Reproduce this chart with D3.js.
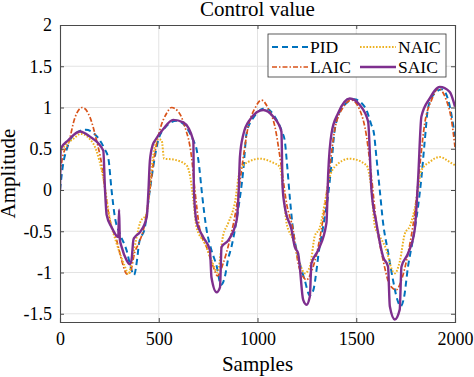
<!DOCTYPE html>
<html>
    <head>
        <title>Control value</title>
        <script src="https://d3js.org/d3.v7.min.js"></script>
        <style>
            body { margin: 0; background: #fff; }
            text { font-family: "Liberation Serif", "Times New Roman", serif; fill: #000; }
        </style>
    </head>
    <body>
        <svg width="474" height="377" id="mainSvg"></svg>
        <script>
            // tick labels
            const xTicks = [0, 500, 1000, 1500, 2000]
            const yTicks = [-1.5, -1, -0.5, 0, 0.5, 1, 1.5, 2]

            // [sample, amplitude]
            const pidData = [[0,0],[15,0.3],[35,0.5],[75,0.68],[130,0.73],[190,0.64],[225,0.5],[245,0.38],[261,0.0],[278,-0.33],[303,-0.53],[337,-0.73],[360,-0.95],[375,-1.03],[390,-0.85],[400,-0.65],[430,-0.45],[455,0.0],[472,0.28],[497,0.6],[530,0.75],[590,0.84],[640,0.76],[675,0.6],[691,0.5],[705,0.28],[717,0.0],[742,-0.48],[767,-0.73],[793,-0.92],[815,-1.15],[835,-1.05],[850,-0.85],[868,-0.69],[902,-0.24],[928,0.24],[945,0.69],[980,0.88],[1040,0.99],[1090,0.88],[1125,0.7],[1138,0.6],[1150,0.3],[1164,-0.1],[1180,-0.48],[1206,-0.81],[1240,-1.1],[1265,-1.28],[1282,-1.22],[1300,-0.95],[1307,-0.81],[1332,-0.45],[1358,-0.05],[1375,0.32],[1391,0.73],[1430,1.0],[1490,1.1],[1545,1.0],[1575,0.8],[1590,0.68],[1602,0.4],[1619,0.0],[1636,-0.4],[1661,-0.75],[1686,-1.09],[1708,-1.33],[1725,-1.41],[1742,-1.3],[1762,-0.93],[1787,-0.6],[1813,-0.2],[1830,0.15],[1847,0.6],[1864,1.0],[1900,1.18],[1935,1.22],[1970,1.05],[2000,0.65]]

            const laicData = [[0,0.2],[15,0.42],[42,0.56],[76,0.88],[113,1.0],[152,0.88],[185,0.6],[211,0.31],[228,0.0],[253,-0.37],[287,-0.61],[312,-0.85],[340,-1.02],[355,-1.0],[379,-0.75],[396,-0.66],[430,-0.4],[455,0.0],[472,0.32],[506,0.73],[540,0.93],[565,1.0],[599,0.95],[632,0.77],[666,0.4],[683,0.0],[708,-0.48],[742,-0.69],[776,-0.93],[797,-1.04],[826,-0.89],[860,-0.6],[894,-0.2],[919,0.24],[953,0.77],[987,0.99],[1020,1.09],[1054,0.99],[1088,0.77],[1121,0.28],[1147,-0.16],[1180,-0.48],[1206,-0.89],[1231,-1.05],[1248,-1.09],[1273,-0.99],[1307,-0.69],[1341,-0.2],[1366,0.28],[1391,0.73],[1433,1.0],[1476,1.09],[1518,0.97],[1552,0.65],[1577,0.16],[1602,-0.4],[1636,-0.85],[1670,-1.15],[1703,-1.21],[1729,-1.09],[1762,-0.77],[1796,-0.28],[1821,0.28],[1847,0.81],[1881,1.09],[1915,1.23],[1956,1.09],[1982,0.85],[2000,0.52]]

            const naicData = [[0,0.45],[30,0.55],[67,0.62],[105,0.68],[169,0.56],[200,0.35],[219,0.15],[253,-0.36],[287,-0.65],[329,-0.93],[346,-1.02],[371,-0.77],[405,-0.4],[439,-0.28],[460,0.2],[478,0.5],[495,0.62],[515,0.6],[527,0.38],[573,0.37],[641,0.3],[660,0.15],[675,-0.12],[691,-0.45],[734,-0.65],[767,-0.85],[797,-1.0],[826,-0.55],[852,-0.4],[885,-0.16],[911,0.24],[928,0.3],[953,0.34],[1012,0.38],[1071,0.34],[1113,0.28],[1130,0.0],[1147,-0.4],[1180,-0.6],[1214,-0.89],[1240,-1.01],[1265,-0.93],[1290,-0.56],[1315,-0.46],[1345,-0.1],[1366,0.16],[1391,0.28],[1467,0.38],[1552,0.3],[1577,0.0],[1594,-0.44],[1619,-0.56],[1653,-0.73],[1678,-0.95],[1695,-1.01],[1720,-0.87],[1746,-0.53],[1771,-0.44],[1805,-0.12],[1830,0.24],[1872,0.34],[1923,0.4],[1973,0.34],[2000,0.3]]

            const saicData = [[0,0],[4,0.5],[40,0.6],[101,0.71],[150,0.65],[219,0.48],[228,0.0],[236,-0.3],[261,-0.45],[295,-0.57],[299,-0.24],[303,-0.6],[312,-0.69],[337,-0.85],[354,-0.9],[362,-0.85],[372,-0.6],[379,-0.57],[405,-0.51],[439,-0.33],[448,0.0],[455,0.35],[470,0.55],[481,0.6],[523,0.74],[573,0.85],[624,0.82],[675,0.6],[678,0.0],[691,-0.38],[725,-0.57],[759,-0.73],[767,-1.06],[793,-1.24],[810,-1.18],[818,-0.69],[852,-0.61],[894,-0.37],[905,0.0],[911,0.4],[928,0.67],[961,0.85],[1029,0.97],[1079,0.89],[1121,0.71],[1127,0.04],[1138,-0.2],[1172,-0.48],[1189,-0.69],[1206,-0.77],[1214,-0.93],[1231,-1.33],[1248,-1.39],[1265,-1.29],[1273,-0.89],[1307,-0.73],[1349,-0.4],[1358,0.2],[1375,0.69],[1408,0.93],[1467,1.11],[1518,1.03],[1560,0.83],[1577,0.0],[1602,-0.4],[1636,-0.81],[1661,-0.93],[1670,-1.41],[1695,-1.57],[1720,-1.45],[1729,-0.93],[1762,-0.77],[1796,-0.48],[1813,0.12],[1830,0.89],[1872,1.11],[1923,1.25],[1973,1.19],[2000,1.01]]

            const series = [
                {name: "PID", data: pidData, color: "#0072BD", dash: "6,4", width: 2},
                {name: "LAIC", data: laicData, color: "#D95319", dash: "5,2,1.5,2", width: 1.7},
                {name: "NAIC", data: naicData, color: "#EDB120", dash: "1.6,1.6", width: 2},
                {name: "SAIC", data: saicData, color: "#7E2F8E", dash: null, width: 2.4},
            ]

            const mainSvg = d3.select("#mainSvg")
            const margin = {top: 25, right: 19, bottom: 55, left: 60}
            const innerWidth = 474 - margin.left - margin.right
            const innerHeight = 377 - margin.top - margin.bottom

            const g = mainSvg.append("g")
                .attr("transform", `translate(${margin.left}, ${margin.top})`)

            const xScale = d3.scaleLinear().domain([0, 2000]).range([0, innerWidth])
            const yScale = d3.scaleLinear().domain([-1.6, 2]).range([innerHeight, 0])

            // grid
            g.append("g").selectAll("line").data(xTicks.slice(1, -1)).join("line")
                .attr("x1", d => xScale(d)).attr("x2", d => xScale(d))
                .attr("y1", 0).attr("y2", innerHeight)
                .attr("stroke", "#e3e3e3").attr("stroke-width", 1)
            g.append("g").selectAll("line").data(yTicks.filter(d => d < 2)).join("line")
                .attr("x1", 0).attr("x2", innerWidth)
                .attr("y1", d => yScale(d)).attr("y2", d => yScale(d))
                .attr("stroke", "#e3e3e3").attr("stroke-width", 1)

            // lines
            mainSvg.append("defs").append("clipPath").attr("id", "clip")
                .append("rect").attr("width", innerWidth).attr("height", innerHeight)

            const line = d3.line()
                .x(d => xScale(d[0]))
                .y(d => yScale(d[1]))
                .curve(d3.curveMonotoneX)

            g.append("g").attr("clip-path", "url(#clip)")
                .selectAll("path").data(series).join("path")
                .attr("d", d => line(d.data))
                .attr("fill", "none")
                .attr("stroke", d => d.color)
                .attr("stroke-width", d => d.width)
                .attr("stroke-dasharray", d => d.dash)
                .attr("stroke-linejoin", "round")

            // axes (ticks inside, mirrored on top / right)
            const xAxis = d3.axisBottom(xScale).tickValues(xTicks).tickSize(-4).tickPadding(10)
                .tickFormat(d => String(d))
            const yAxis = d3.axisLeft(yScale).tickValues(yTicks).tickSize(-4).tickPadding(8)
                .tickFormat(d => String(d))
            const xTop = d3.axisTop(xScale).tickValues(xTicks).tickSize(-4).tickFormat("")
            const yRight = d3.axisRight(yScale).tickValues(yTicks).tickSize(-4).tickFormat("")

            const axX = g.append("g").attr("transform", `translate(0, ${innerHeight})`).call(xAxis)
            g.append("g").call(yAxis)
            g.append("g").call(xTop)
            g.append("g").attr("transform", `translate(${innerWidth}, 0)`).call(yRight)

            g.selectAll(".domain").attr("stroke", "#4a4a4a").attr("stroke-width", 1.1)
            g.selectAll(".tick line").attr("stroke", "#4a4a4a")
            g.selectAll(".tick text").attr("font-size", 18)
                .attr("font-family", "Liberation Serif, serif").attr("fill", "#000")

            // title and labels
            mainSvg.append("text")
                .text("Control value")
                .attr("x", margin.left + innerWidth / 2).attr("y", 16)
                .attr("text-anchor", "middle").attr("font-size", 21)
            mainSvg.append("text")
                .text("Samples")
                .attr("x", margin.left + innerWidth / 2).attr("y", 371)
                .attr("text-anchor", "middle").attr("font-size", 21)
            mainSvg.append("text")
                .text("Amplitude")
                .attr("transform", `translate(15, ${margin.top + innerHeight / 2}) rotate(-90)`)
                .attr("text-anchor", "middle").attr("font-size", 21)

            // legend (2 columns)
            const legend = mainSvg.append("g")
            legend.append("rect")
                .attr("x", 268).attr("y", 34).attr("width", 178).attr("height", 43)
                .attr("fill", "#fff").attr("stroke", "#333").attr("stroke-width", 0.8)
            const legPos = {PID: [272, 47], NAIC: [360, 47], LAIC: [272, 67], SAIC: [360, 67]}
            const items = legend.selectAll("g.item").data(series).join("g")
                .attr("class", "item")
                .attr("transform", d => `translate(${legPos[d.name][0]}, ${legPos[d.name][1]})`)
            items.append("line")
                .attr("x1", 0).attr("x2", 36).attr("y1", 0).attr("y2", 0)
                .attr("stroke", d => d.color)
                .attr("stroke-width", d => d.width)
                .attr("stroke-dasharray", d => d.dash)
            items.append("text")
                .text(d => d.name)
                .attr("x", 38).attr("y", 6)
                .attr("font-size", 17.5)
        </script>
    </body>
</html>
